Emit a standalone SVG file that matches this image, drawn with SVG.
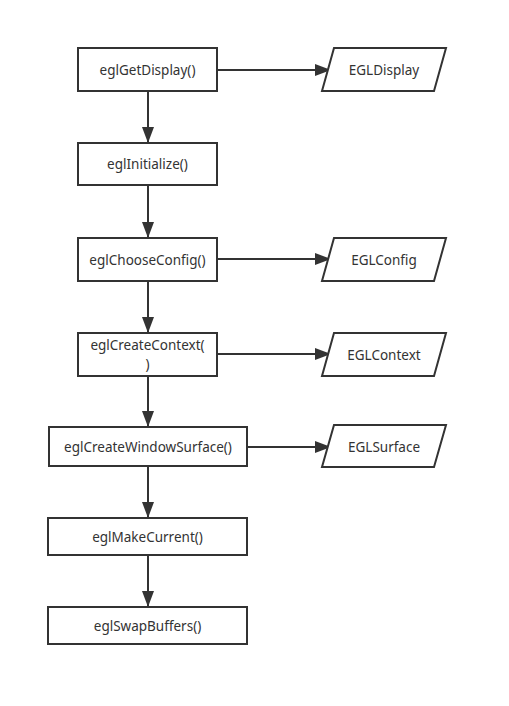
<svg xmlns="http://www.w3.org/2000/svg" width="509" height="706" viewBox="0 0 509 706">
<style>
.box{fill:#fff;stroke:#333;stroke-width:2}
.lbl{font-family:"Noto Sans","Open Sans",sans-serif;font-size:13.5px;fill:#333;text-anchor:middle}
.con{stroke:#333;stroke-width:2;fill:none;marker-end:url(#ah)}
</style>
<defs>
<marker id="ah" markerWidth="16" markerHeight="12" refX="15" refY="6" orient="auto" markerUnits="userSpaceOnUse">
<path d="M0,0 L16,6 L0,12 Z" fill="#333"/>
</marker>
</defs>
<rect width="509" height="706" fill="#fff"/>
<g id="connectors">
<line class="con" x1="148" y1="91" x2="148" y2="142"/>
<line class="con" x1="148" y1="185" x2="148" y2="237"/>
<line class="con" x1="148" y1="281" x2="148" y2="332"/>
<line class="con" x1="148" y1="376" x2="148" y2="426"/>
<line class="con" x1="148" y1="466" x2="148" y2="517"/>
<line class="con" x1="148" y1="555" x2="148" y2="606"/>
<line class="con" x1="217" y1="70" x2="330" y2="70"/>
<line class="con" x1="217" y1="259" x2="330" y2="259"/>
<line class="con" x1="217" y1="354" x2="330" y2="354"/>
<line class="con" x1="247" y1="447" x2="330" y2="447"/>
</g>
<g id="n1"><rect class="box" x="78" y="48" width="139" height="43"/><text class="lbl" x="147.5" y="74.5">eglGetDisplay()</text></g>
<g id="n2"><rect class="box" x="78" y="143" width="139" height="42"/><text class="lbl" x="147.5" y="169">eglInitialize()</text></g>
<g id="n3"><rect class="box" x="78" y="238" width="139" height="43"/><text class="lbl" x="147.5" y="264.5">eglChooseConfig()</text></g>
<g id="n4"><rect class="box" x="78" y="333" width="139" height="43"/><text class="lbl" x="147.5" y="349.5">eglCreateContext(</text><text class="lbl" x="147.5" y="368.5">)</text></g>
<g id="n5"><rect class="box" x="49" y="427" width="198" height="39"/><text class="lbl" x="148" y="451.5">eglCreateWindowSurface()</text></g>
<g id="n6"><rect class="box" x="48" y="518" width="199" height="37"/><text class="lbl" x="147.5" y="541.5">eglMakeCurrent()</text></g>
<g id="n7"><rect class="box" x="48" y="607" width="199" height="37"/><text class="lbl" x="147.5" y="630.5">eglSwapBuffers()</text></g>
<g id="p1"><polygon class="box" points="334,48 446,48 434,91 322,91"/><text class="lbl" x="384" y="74.5">EGLDisplay</text></g>
<g id="p2"><polygon class="box" points="334,238 446,238 434,281 322,281"/><text class="lbl" x="384" y="264.5">EGLConfig</text></g>
<g id="p3"><polygon class="box" points="334,333 446,333 434,376 322,376"/><text class="lbl" x="384" y="359.5">EGLContext</text></g>
<g id="p4"><polygon class="box" points="334,425 446,425 434,467 322,467"/><text class="lbl" x="384" y="451.5">EGLSurface</text></g>
</svg>
